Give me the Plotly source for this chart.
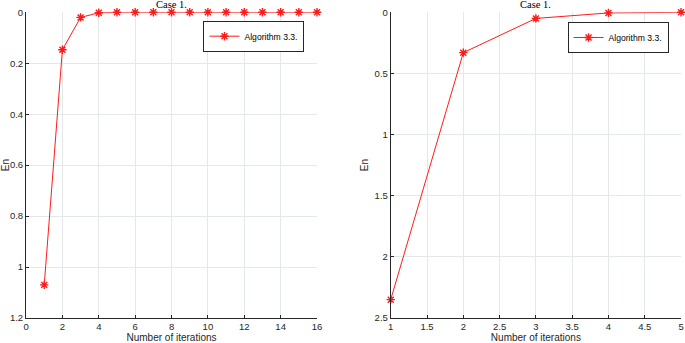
import plotly.graph_objects as go

iters_left = list(range(1, 17))
en_left = [1.07, 0.147, 0.02, 0.002, 0.0, 0.0, 0.0, 0.0, 0.0, 0.0, 0.0, 0.0, 0.0, 0.0, 0.0, 0.0]
iters_right = [1, 2, 3, 4, 5]
en_right = [2.35, 0.33, 0.05, 0.005, 0.0]
series_name = "Algorithm 3.3."
title_text = "Case 1."

RED = "#ff1a1a"
AX = "#262626"
GRID = "#e3e9e9"

fig = go.Figure()
for xs, ys, xa, ya, lg in [(iters_left, en_left, "x", "y", "legend"),
                           (iters_right, en_right, "x2", "y2", "legend2")]:
    fig.add_trace(go.Scatter(
        x=xs, y=ys, xaxis=xa, yaxis=ya, legend=lg, name=series_name,
        mode="lines+markers", cliponaxis=False,
        line=dict(color=RED, width=1),
        marker=dict(symbol="asterisk-open", size=7, color=RED, line=dict(color=RED, width=1.4)),
    ))

axis_common = dict(showline=True, linecolor=AX, linewidth=1, ticks="inside", ticklen=3,
                   tickcolor=AX, showgrid=True, gridcolor=GRID, gridwidth=1, zeroline=False,
                   tickfont=dict(family="Liberation Sans, Arial", size=9.5, color=AX),
                   mirror=False, automargin=False)
title_font = dict(family="Liberation Sans, Arial", size=10, color=AX)
leg_font = dict(family="Liberation Sans, Arial", size=8.6, color="black")

fig.update_layout(
    width=685, height=343, autosize=False,
    margin=dict(l=0, r=0, t=0, b=0, pad=0),
    plot_bgcolor="white", paper_bgcolor="white",
    xaxis=dict(domain=[0.038, 0.4628], range=[0, 16], tickvals=list(range(0, 17, 2)),
               title=dict(text="Number of iterations", font=title_font, standoff=2), anchor="y", **axis_common),
    yaxis=dict(domain=[0.0729, 0.9641], range=[1.2, 0], tickvals=[0, 0.2, 0.4, 0.6, 0.8, 1, 1.2],
               ticktext=["0", "0.2", "0.4", "0.6", "0.8", "1", "1.2"],
               title=dict(text="En", font=title_font, standoff=4), anchor="x", **axis_common),
    xaxis2=dict(domain=[0.5704, 0.9942], range=[1, 5], tickvals=[1, 1.5, 2, 2.5, 3, 3.5, 4, 4.5, 5],
                title=dict(text="Number of iterations", font=title_font, standoff=2), anchor="y2", **axis_common),
    yaxis2=dict(domain=[0.0729, 0.9641], range=[2.5, 0], tickvals=[0, 0.5, 1, 1.5, 2, 2.5],
                title=dict(text="En", font=title_font, standoff=4), anchor="x2", **axis_common),
    legend=dict(x=0.4445, y=0.9397, xanchor="right", yanchor="top", bordercolor=AX, borderwidth=1,
                bgcolor="white", font=leg_font, itemwidth=30, tracegroupgap=0),
    legend2=dict(x=0.976, y=0.9359, xanchor="right", yanchor="top", bordercolor=AX, borderwidth=1,
                 bgcolor="white", font=leg_font, itemwidth=30, tracegroupgap=0),
    showlegend=True,
    annotations=[
        dict(text=title_text, x=(0.038 + 0.4628) / 2, y=1.0, xref="paper", yref="paper",
             xanchor="center", yanchor="top", showarrow=False, yshift=3,
             font=dict(family="Liberation Serif, Times New Roman", size=10.5, color="black")),
        dict(text=title_text, x=(0.5704 + 0.9942) / 2, y=1.0, xref="paper", yref="paper",
             xanchor="center", yanchor="top", showarrow=False, yshift=3,
             font=dict(family="Liberation Serif, Times New Roman", size=10.5, color="black")),
    ],
)

fig.write_html("out.html", config={"displayModeBar": False},
               post_script="document.body.style.margin='0';document.body.style.padding='0';document.body.style.overflow='hidden';")
